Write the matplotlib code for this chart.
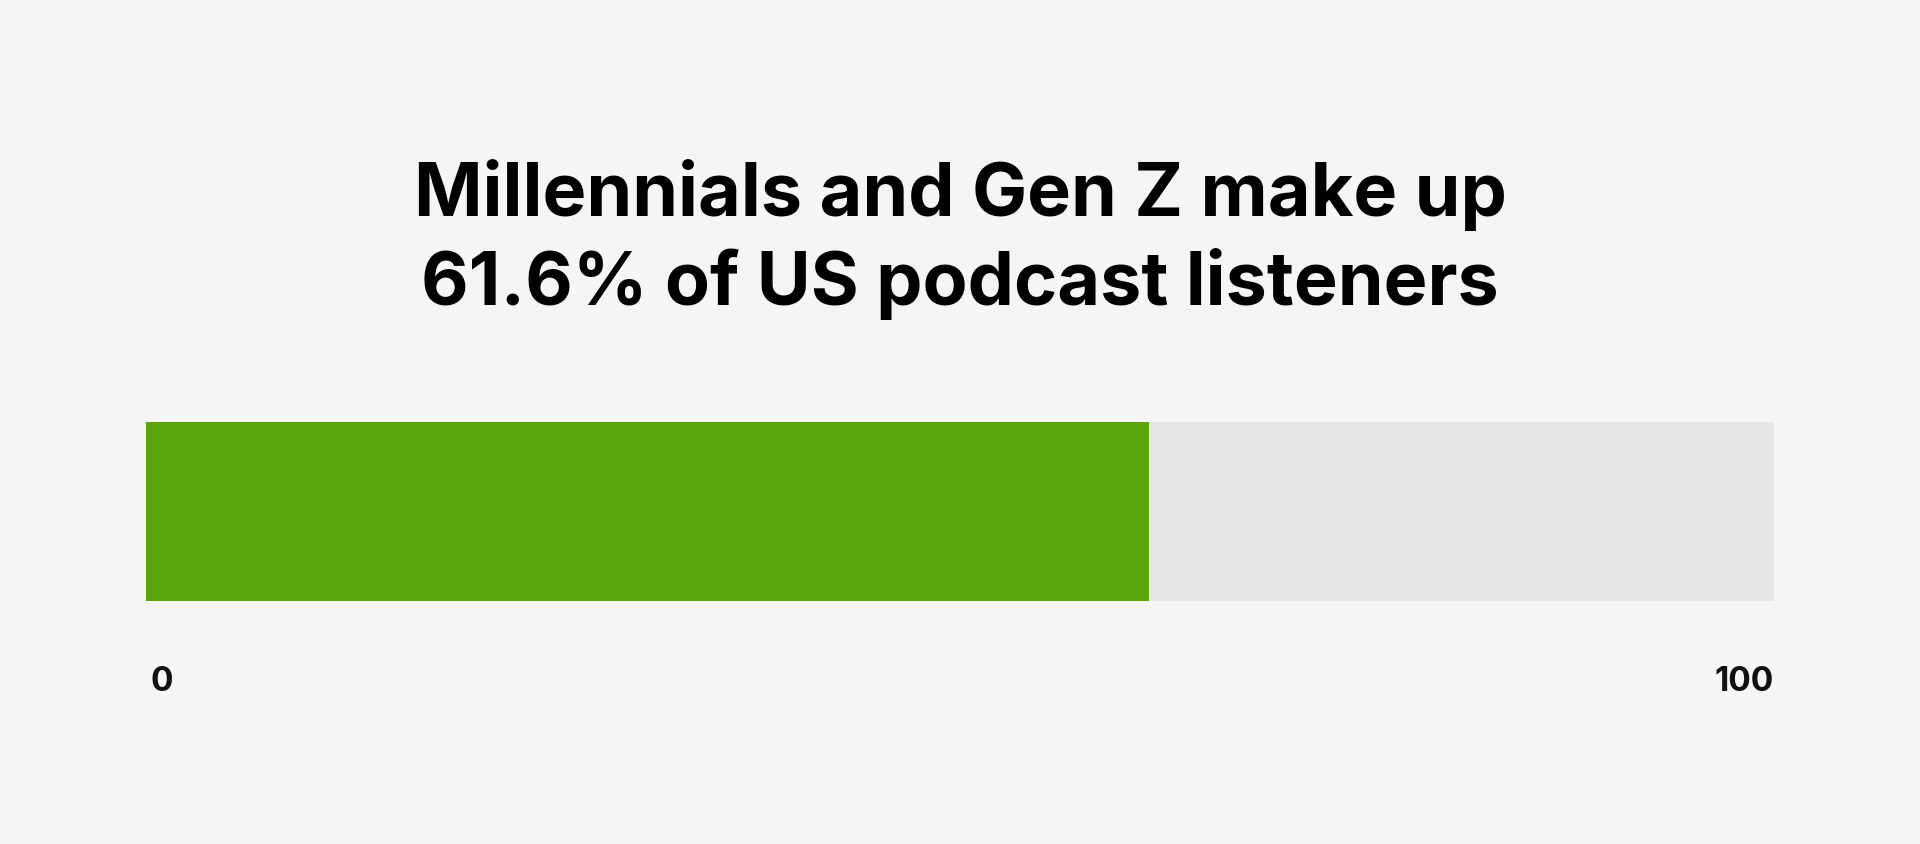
import matplotlib
matplotlib.use("Agg")
import matplotlib.pyplot as plt
import matplotlib.transforms as mtransforms

# Data
share_label = "Millennials and Gen Z"
share_value = 61.6
scale_max = 100
tick_values = [0, 100]
tick_labels = ["0", "100"]
title_lines = ["Millennials and Gen Z make up", "61.6% of US podcast listeners"]

BG = "#F5F5F5"
GREEN = "#59A50B"
TRACK = "#E5E5E5"

plt.rcParams['font.family'] = ['Inter', 'DejaVu Sans']

W, H = 1920, 845
fig = plt.figure(figsize=(W / 100, H / 100), dpi=100, facecolor=BG)

left, right = 146, 1774
bar_top, bar_bot = 423, 602
ax = fig.add_axes([left / W, (H - bar_bot) / H, (right - left) / W, (bar_bot - bar_top) / H])
ax.set_facecolor(BG)

ax.barh([0], [scale_max], height=1.0, color=TRACK, linewidth=0)
ax.barh([0], [share_value], height=1.0, color=GREEN, linewidth=0)
ax.set_xlim(0, scale_max)
ax.set_ylim(-0.5, 0.5)
ax.set_yticks([])
ax.set_xticks(tick_values)
ax.set_xticklabels(tick_labels, fontsize=24, fontweight='bold', color='#111111')
ax.tick_params(axis='x', length=0, pad=46)
labels = ax.get_xticklabels()
labels[0].set_horizontalalignment('left')
labels[-1].set_horizontalalignment('right')
shift = mtransforms.ScaledTranslation(5 / 100, 0, fig.dpi_scale_trans)
labels[0].set_transform(labels[0].get_transform() + shift)
for s in ax.spines.values():
    s.set_visible(False)

fig.text(0.5, (H - 216) / H, title_lines[0], ha='center', va='baseline',
         fontsize=53, fontweight='bold', color='#000000')
fig.text(0.5, (H - 305) / H, title_lines[1], ha='center', va='baseline',
         fontsize=53, fontweight='bold', color='#000000')

fig.savefig("out.png", dpi=100, facecolor=BG)
